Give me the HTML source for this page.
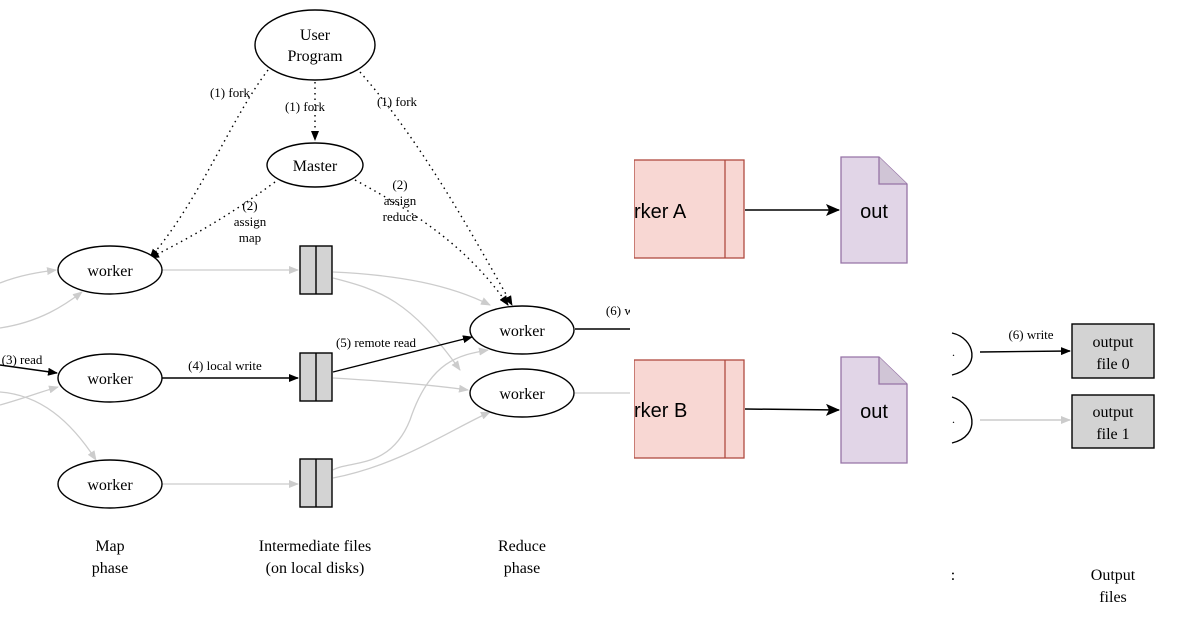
<!DOCTYPE html>
<html><head><meta charset="utf-8"><style>
html,body{margin:0;padding:0;background:#fff;width:1200px;height:630px;overflow:hidden}
svg{display:block}
</style></head><body>
<svg width="1200" height="630" viewBox="0 0 1200 630" xmlns="http://www.w3.org/2000/svg">
<defs>
<marker id="ab" markerWidth="10" markerHeight="8" refX="9" refY="4" orient="auto" markerUnits="userSpaceOnUse"><path d="M0,0L10,4L0,8z" fill="#000"/></marker>
<marker id="ag" markerWidth="10" markerHeight="8" refX="9" refY="4" orient="auto" markerUnits="userSpaceOnUse"><path d="M0,0L10,4L0,8z" fill="#ccc"/></marker>
<marker id="ak" markerWidth="14" markerHeight="12" refX="13" refY="6" orient="auto" markerUnits="userSpaceOnUse"><path d="M0,0L14,6L0,12L3,6z" fill="#000"/></marker>
<clipPath id="lc"><rect x="0" y="0" width="632" height="630"/></clipPath>
</defs>
<g clip-path="url(#lc)" font-family="Liberation Serif, serif" fill="none">
<!-- gray edges -->
<g stroke="#ccc" stroke-width="1.3">
<path d="M0,283 C20,275 40,272 56,270" marker-end="url(#ag)"/>
<path d="M0,328 C40,322 65,305 82,292" marker-end="url(#ag)"/>
<path d="M0,405 C25,398 40,392 58,387" marker-end="url(#ag)"/>
<path d="M0,392 C40,395 70,420 96,460" marker-end="url(#ag)"/>
<path d="M162,270 L298,270" marker-end="url(#ag)"/>
<path d="M162,484 L298,484" marker-end="url(#ag)"/>
<path d="M333,272 C400,275 450,285 490,305" marker-end="url(#ag)"/>
<path d="M333,278 C380,290 410,300 460,370" marker-end="url(#ag)"/>
<path d="M333,378 C400,382 440,386 468,390" marker-end="url(#ag)"/>
<path d="M333,470 C350,460 390,470 410,420 C430,360 460,355 488,350" marker-end="url(#ag)"/>
<path d="M333,478 C400,465 450,430 490,412" marker-end="url(#ag)"/>
<path d="M575,393 L632,393"/>
</g>
<!-- black edges -->
<g stroke="#000" stroke-width="1.4">
<path d="M0,365 L57,373" marker-end="url(#ab)"/>
<path d="M162,378 L298,378" marker-end="url(#ab)"/>
<path d="M333,372 L472,337" marker-end="url(#ab)"/>
<path d="M575,329 L632,329"/>
</g>
<!-- dotted -->
<g stroke="#000" stroke-width="1.4" stroke-dasharray="1.5,4">
<path d="M268,70 C230,120 200,200 150,258" marker-end="url(#ab)"/>
<path d="M315,82 L315,140" marker-end="url(#ab)"/>
<path d="M360,72 C420,140 470,230 512,305" marker-end="url(#ab)"/>
<path d="M275,182 C230,215 195,235 150,258" marker-end="url(#ab)"/>
<path d="M355,180 C420,215 470,250 508,305" marker-end="url(#ab)"/>
</g>
<!-- nodes -->
<g stroke="#000" stroke-width="1.4" fill="#fff">
<ellipse cx="315" cy="45" rx="60" ry="35"/>
<ellipse cx="315" cy="165" rx="48" ry="22"/>
<ellipse cx="110" cy="270" rx="52" ry="24"/>
<ellipse cx="110" cy="378" rx="52" ry="24"/>
<ellipse cx="110" cy="484" rx="52" ry="24"/>
<ellipse cx="522" cy="330" rx="52" ry="24"/>
<ellipse cx="522" cy="393" rx="52" ry="24"/>
</g>
<g stroke="#000" stroke-width="1.4" fill="#d3d3d3">
<rect x="300" y="246" width="32" height="48"/><line x1="316" y1="246" x2="316" y2="294"/>
<rect x="300" y="353" width="32" height="48"/><line x1="316" y1="353" x2="316" y2="401"/>
<rect x="300" y="459" width="32" height="48"/><line x1="316" y1="459" x2="316" y2="507"/>
</g>
<g fill="#000" font-size="16" text-anchor="middle">
<text x="315" y="40">User</text><text x="315" y="61">Program</text>
<text x="315" y="171">Master</text>
<text x="110" y="276">worker</text><text x="110" y="384">worker</text><text x="110" y="490">worker</text>
<text x="522" y="336">worker</text><text x="522" y="399">worker</text>
<text x="110" y="551">Map</text><text x="110" y="573">phase</text>
<text x="315" y="551">Intermediate files</text><text x="315" y="573">(on local disks)</text>
<text x="522" y="551">Reduce</text><text x="522" y="573">phase</text>
</g>
<g fill="#000" font-size="13" text-anchor="middle">
<text x="230" y="97">(1) fork</text>
<text x="305" y="111">(1) fork</text>
<text x="397" y="106">(1) fork</text>
<text x="250" y="210">(2)</text><text x="250" y="226">assign</text><text x="250" y="242">map</text>
<text x="400" y="189">(2)</text><text x="400" y="205">assign</text><text x="400" y="221">reduce</text>
<text x="22" y="364">(3) read</text>
<text x="225" y="370">(4) local write</text>
<text x="376" y="347">(5) remote read</text>
<text x="622" y="315">(6) wr</text>
</g>
</g>
<!-- middle panel -->
<g font-family="Liberation Sans, sans-serif">
<rect x="634" y="160" width="110" height="98" fill="#f8d7d3" stroke="#b04a40" stroke-width="1.3"/>
<line x1="725" y1="160" x2="725" y2="258" stroke="#b04a40" stroke-width="1.3"/>
<rect x="634" y="360" width="110" height="98" fill="#f8d7d3" stroke="#b04a40" stroke-width="1.3"/>
<line x1="725" y1="360" x2="725" y2="458" stroke="#b04a40" stroke-width="1.3"/>
<rect x="630" y="150" width="4" height="320" fill="#fff"/>
<text x="634" y="218" font-size="20" fill="#000">rker A</text>
<text x="634" y="417" font-size="20" fill="#000">rker B</text>
<path d="M745,210 L839,210" stroke="#000" stroke-width="1.5" marker-end="url(#ak)"/>
<path d="M745,409 L839,410" stroke="#000" stroke-width="1.5" marker-end="url(#ak)"/>
<path d="M841,157 L879,157 L907,184 L907,263 L841,263 Z" fill="#e1d5e7" stroke="#9673a6" stroke-width="1.3"/>
<path d="M879,157 L879,184 L907,184" fill="#d0c5d6" stroke="#9673a6" stroke-width="1.3"/>
<path d="M841,357 L879,357 L907,384 L907,463 L841,463 Z" fill="#e1d5e7" stroke="#9673a6" stroke-width="1.3"/>
<path d="M879,357 L879,384 L907,384" fill="#d0c5d6" stroke="#9673a6" stroke-width="1.3"/>
<text x="874" y="218" font-size="20" text-anchor="middle" fill="#000">out</text>
<text x="874" y="418" font-size="20" text-anchor="middle" fill="#000">out</text>
</g>
<!-- right panel -->
<g font-family="Liberation Serif, serif">
<path d="M952,333 C975,338 982,368 952,375" fill="none" stroke="#000" stroke-width="1.4"/>
<path d="M952,397 C975,404 982,436 952,443" fill="none" stroke="#000" stroke-width="1.4"/>
<text x="952" y="356" font-size="12">.</text><text x="952" y="423" font-size="12">.</text>
<path d="M980,352 L1070,351" stroke="#000" stroke-width="1.4" marker-end="url(#ab)"/>
<path d="M980,420 L1070,420" stroke="#ccc" stroke-width="1.4" marker-end="url(#ag)"/>
<text x="1031" y="339" font-size="13" text-anchor="middle">(6) write</text>
<rect x="1072" y="324" width="82" height="54" fill="#d3d3d3" stroke="#000" stroke-width="1.4"/>
<rect x="1072" y="395" width="82" height="53" fill="#d3d3d3" stroke="#000" stroke-width="1.4"/>
<g font-size="16" text-anchor="middle">
<text x="1113" y="347">output</text><text x="1113" y="369">file 0</text>
<text x="1113" y="417">output</text><text x="1113" y="439">file 1</text>
<text x="1113" y="580">Output</text><text x="1113" y="602">files</text>
<text x="953" y="580">:</text>
</g>
</g>
</svg>
</body></html>
